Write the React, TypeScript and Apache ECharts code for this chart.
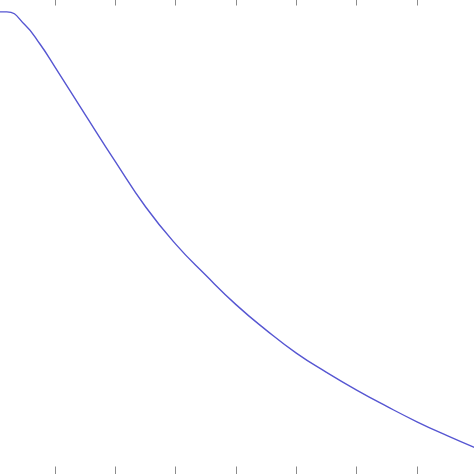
import React, { useEffect, useRef } from 'react';
import * as echarts from 'echarts';

// curve
const xValues = [0, 0.2, 0.5, 0.75, 1, 1.5, 2, 2.5, 3, 3.5, 4, 4.5, 5, 5.5, 6, 6.5, 7, 7.5, 8];
const yValues = [0.967, 0.967, 0.94, 0.9, 0.852, 0.753, 0.655, 0.561, 0.483, 0.418, 0.357, 0.304, 0.256, 0.216, 0.179, 0.145, 0.113, 0.084, 0.057];

const tickStyle = {
  show: true,
  inside: true,
  length: 9.5,
  lineStyle: { color: '#8c8c8c', width: 1 },
};

const App: React.FC = () => {
  const chartRef = useRef<HTMLDivElement>(null);

  useEffect(() => {
    const myChart = echarts.init(chartRef.current!, null, { renderer: 'svg' });

    const option = {
      animation: false,
      backgroundColor: '#ffffff',
      grid: {
        left: -5.3,
        top: -4,
        width: 482.6,
        height: 480,
        outerBoundsMode: 'none',
      },
      xAxis: [
        {
          type: 'value',
          position: 'bottom',
          min: 0,
          max: 8,
          interval: 1,
          axisLine: { show: false },
          axisTick: tickStyle,
          axisLabel: { show: false },
          splitLine: { show: false },
        },
        {
          type: 'value',
          position: 'top',
          min: 0,
          max: 8,
          interval: 1,
          axisLine: { show: false },
          axisTick: tickStyle,
          axisLabel: { show: false },
          splitLine: { show: false },
        },
      ],
      yAxis: {
        type: 'value',
        min: 0,
        max: 1,
        axisLine: { show: false },
        axisTick: { show: false },
        axisLabel: { show: false },
        splitLine: { show: false },
      },
      series: [
        {
          type: 'line',
          xAxisIndex: 0,
          smooth: true,
          symbol: 'none',
          lineStyle: { color: '#5656d2', width: 1.4 },
          data: xValues.map((x, i) => [x, yValues[i]]),
        },
      ],
    };

    myChart.setOption(option);

    return () => {
      myChart.dispose();
    };
  }, []);

  return (
    <div
      ref={chartRef}
      style={{ position: 'fixed', left: 0, top: 0, width: '474px', height: '474px' }}
    />
  );
};

export default App;
